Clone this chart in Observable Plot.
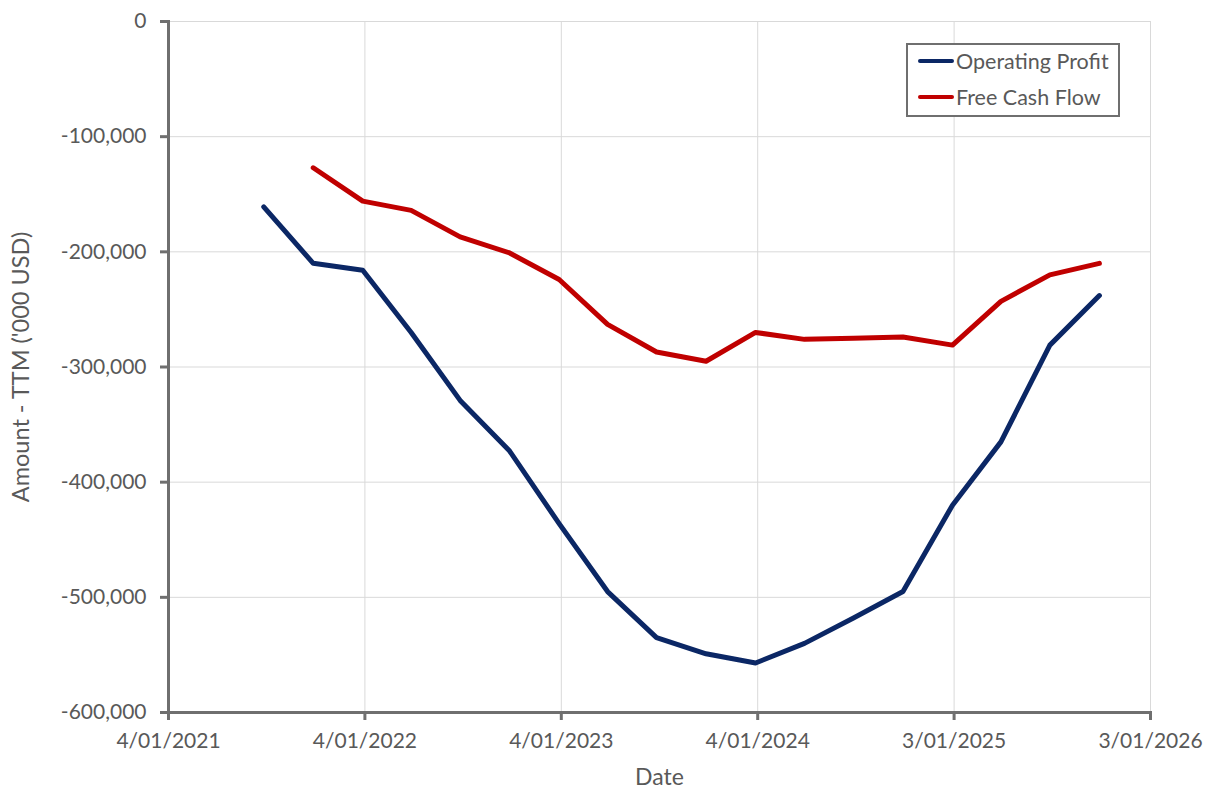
<!DOCTYPE html>
<html>
<head>
<meta charset="utf-8">
<script src="https://cdn.jsdelivr.net/npm/d3@7"></script>
<script src="https://cdn.jsdelivr.net/npm/@observablehq/plot@0.6"></script>
<style>
  html, body { margin: 0; padding: 0; background: #fff; }
  #wrap { position: relative; width: 1221px; height: 798px; font-family: Lato, "Open Sans", sans-serif; }
  #legend { position: absolute; left: 906px; top: 43px; width: 210px; height: 70px; border: 2px solid #6f6f6f; background: #fff; color: #595959; font-size: 21.5px; }
  .item { position: absolute; left: 10px; display: flex; align-items: center; height: 24px; }
  .sw { width: 36px; height: 4.5px; border-radius: 2px; margin-right: 2px; }
</style>
</head>
<body>
<div id="wrap"></div>
<script>
// ---- data ----
const opDates = ["2021-06-30","2021-09-30","2021-12-31","2022-03-31","2022-06-30","2022-09-30","2022-12-31","2023-03-31","2023-06-30","2023-09-30","2023-12-31","2024-03-31","2024-06-30","2024-09-30","2024-12-31","2025-03-31","2025-06-30","2025-09-30"];
const opValues = [-161000,-210000,-216000,-270000,-329000,-373000,-436000,-495000,-535000,-549000,-557000,-540000,-518000,-495000,-420000,-365000,-281000,-238000];
const fcfDates = ["2021-09-30","2021-12-31","2022-03-31","2022-06-30","2022-09-30","2022-12-31","2023-03-31","2023-06-30","2023-09-30","2023-12-31","2024-03-31","2024-06-30","2024-09-30","2024-12-31","2025-03-31","2025-06-30","2025-09-30"];
const fcfValues = [-127000,-156000,-164000,-187000,-201000,-224000,-263000,-287000,-295000,-270000,-276000,-275000,-274000,-281000,-243000,-220000,-210000];
const xTickDates = ["2021-01-04","2022-01-04","2023-01-04","2024-01-04","2025-01-03","2026-01-03"];
const yTicks = [0,-100000,-200000,-300000,-400000,-500000,-600000];
const seriesNames = ["Operating Profit","Free Cash Flow"];
const seriesColors = ["#0b2765","#c00000"];
const xLabel = "Date";
const yLabel = "Amount - TTM ('000 USD)";

const toDate = s => new Date(s + "T00:00:00Z");
const rows = [
  ...opDates.map((d,i)=>({date: toDate(d), value: opValues[i], series: seriesNames[0]})),
  ...fcfDates.map((d,i)=>({date: toDate(d), value: fcfValues[i], series: seriesNames[1]}))
];
const xTicks = xTickDates.map(toDate);
const fmtDate = d => `${d.getUTCDate()}/${String(d.getUTCMonth()+1).padStart(2,"0")}/${d.getUTCFullYear()}`;
const fmtNum = v => d3.format(",")(v).replace("\u2212", "-");
const axisColor = "#6f6f6f";
const gridColor = "#d9d9d9";

const chart = Plot.plot({
  width: 1221, height: 798,
  marginLeft: 168, marginRight: 71, marginTop: 21, marginBottom: 86,
  style: { fontFamily: "Lato, 'Open Sans', sans-serif", fontSize: "21px", color: "#595959", background: "#fff", overflow: "visible" },
  x: { type: "utc", domain: [xTicks[0], xTicks[xTicks.length-1]] },
  y: { domain: [-600000, 0] },
  color: { domain: seriesNames, range: seriesColors },
  marks: [
    Plot.gridX(xTicks, { stroke: gridColor, strokeOpacity: 1, strokeWidth: 1 }),
    Plot.gridY(yTicks, { stroke: gridColor, strokeOpacity: 1, strokeWidth: 1 }),
    Plot.axisX(xTicks, { tickFormat: fmtDate, tickSize: 8, tickPadding: 13, stroke: axisColor, strokeWidth: 3, fill: "#595959", label: null }),
    Plot.axisY(yTicks, { tickFormat: fmtNum, tickSize: 8, tickPadding: 14, stroke: axisColor, strokeWidth: 3, fill: "#595959", label: null }),
    Plot.frame({ anchor: "left", stroke: axisColor, strokeWidth: 3 }),
    Plot.frame({ anchor: "bottom", stroke: axisColor, strokeWidth: 3 }),
    Plot.line(rows, { x: "date", y: "value", z: "series", stroke: "series", strokeWidth: 5, strokeLinejoin: "round", strokeLinecap: "round" }),
    Plot.text([xLabel], { frameAnchor: "bottom", dy: 72, fill: "#595959", fontSize: 23 }),
    Plot.text([yLabel], { frameAnchor: "left", textAnchor: "middle", dx: -147, rotate: -90, fill: "#595959", fontSize: 23.5 })
  ]
});

const wrap = document.getElementById("wrap");
wrap.appendChild(chart);
const legend = document.createElement("div");
legend.id = "legend";
seriesNames.forEach((name, i) => {
  const it = document.createElement("div");
  it.className = "item";
  it.style.top = (4 + i * 36) + "px";
  const sw = document.createElement("span");
  sw.className = "sw";
  sw.style.background = seriesColors[i];
  const tx = document.createElement("span");
  tx.textContent = name;
  it.appendChild(sw); it.appendChild(tx);
  legend.appendChild(it);
});
wrap.appendChild(legend);
</script>
</body>
</html>
